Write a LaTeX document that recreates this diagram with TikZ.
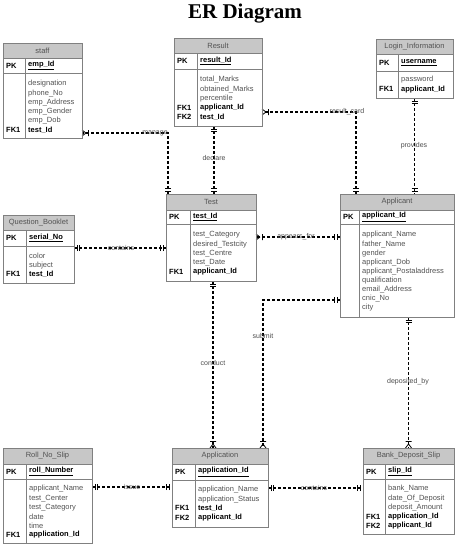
\documentclass[tikz,border=0pt]{standalone}
\usepackage{fontspec}
\setmainfont{Liberation Sans}
\newfontfamily\titlefont{Liberation Serif}
\usetikzlibrary{decorations.markings,backgrounds}

\tikzset{
  entity/.style={draw=black!50, line width=0.7pt, anchor=north west, inner sep=0pt, outer sep=0pt},
  entityhead/.style={fill=black!22},
  entityrule/.style={draw=black!50, line width=0.7pt},
  entityname/.style={inner sep=0pt, font=\fontsize{7.5}{9}\selectfont, text=black!68},
  field/.style={anchor=west, inner sep=0pt, font=\fontsize{7.5}{9}\selectfont, text=black!68},
  boldfield/.style={field, font=\fontsize{7.5}{9}\selectfont\bfseries, text=black},
  keytag/.style={boldfield},
  relation/.style={line width=1.1pt, dash pattern=on 3pt off 2pt},
  rellabel/.style={inner sep=0pt, font=\fontsize{7}{8}\selectfont, text=black!70},
  oneA/.style={postaction={decorate, decoration={markings,
    mark=at position 3pt with {\draw[solid, line width=0.8pt] (0,-3pt) -- (0,3pt);},
    mark=at position 5.5pt with {\draw[solid, line width=0.8pt] (0,-3pt) -- (0,3pt);}}}},
  oneB/.style={postaction={decorate, decoration={markings,
    mark=at position -3pt with {\draw[solid, line width=0.8pt] (0,-3pt) -- (0,3pt);},
    mark=at position -5.5pt with {\draw[solid, line width=0.8pt] (0,-3pt) -- (0,3pt);}}}},
  manyB/.style={postaction={decorate, decoration={markings,
    mark=at position 1 with {\draw[solid, line width=0.8pt] (-4pt,0) -- (0,3pt) (-4pt,0) -- (0,-3pt) (-6.5pt,-3pt) -- (-6.5pt,3pt);}}}}
}

\begin{document}
\begin{tikzpicture}[x=1pt, y=-1pt]
	\useasboundingbox (0,0) rectangle (474,557);
	\node[font=\titlefont\bfseries\fontsize{21}{24}\selectfont] (title) at (245,14) {ER Diagram};

	% staff
	\fill[entityhead] (3,43) rectangle (82,58);
	\node[entity, minimum width=79pt, minimum height=95pt] (staff) at (3,43) {};
	\draw[entityrule] (3,58) -- (82,58) (3,73) -- (82,73) (25,58) -- (25,138);
	\node[entityname] (staff-t) at (42.5,50.5) {staff};
	\node[keytag] (staff-pk) at (6,65.5) {PK};
	\node[boldfield] (staff-k) at (28,65.5) {\underline{emp\_Id}};
	\foreach \fld [count=\i from 0] in {designation,phone\_No,emp\_Address,emp\_Gender,emp\_Dob}
		\node[field] (staff-f\i) at (28,84+9.2*\i) {\fld};
	\node[keytag] (staff-fk1) at (6,130) {FK1};
	\node[boldfield] (staff-fa1) at (28,130) {test\_Id};

	% Result
	\fill[entityhead] (174,38) rectangle (262,53);
	\node[entity, minimum width=88pt, minimum height=88pt] (result) at (174,38) {};
	\draw[entityrule] (174,53) -- (262,53) (174,69) -- (262,69) (197,53) -- (197,126);
	\node[entityname] (result-t) at (218,45.5) {Result};
	\node[keytag] (result-pk) at (177,61) {PK};
	\node[boldfield] (result-k) at (200,61) {\underline{result\_Id}};
	\foreach \fld [count=\i from 0] in {total\_Marks,obtained\_Marks,percentile}
		\node[field] (result-f\i) at (200,80+9.2*\i) {\fld};
	\foreach \fld [count=\i] in {applicant\_Id,test\_Id} {
		\node[keytag] (result-fk\i) at (177,98.4+9.2*\i) {FK\i};
		\node[boldfield] (result-fa\i) at (200,98.4+9.2*\i) {\fld};
	}

	% Login_Information
	\fill[entityhead] (376,39) rectangle (453,54);
	\node[entity, minimum width=77pt, minimum height=59pt] (login) at (376,39) {};
	\draw[entityrule] (376,54) -- (453,54) (376,71) -- (453,71) (398,54) -- (398,98);
	\node[entityname] (login-t) at (414.5,46.5) {Login\_Information};
	\node[keytag] (login-pk) at (379,62.5) {PK};
	\node[boldfield] (login-k) at (401,62.5) {\underline{username}};
	\node[field] (login-f0) at (401,80) {password};
	\node[keytag] (login-fk1) at (379,89.2) {FK1};
	\node[boldfield] (login-fa1) at (401,89.2) {applicant\_Id};

	% Question_Booklet
	\fill[entityhead] (3,215) rectangle (74,230);
	\node[entity, minimum width=71pt, minimum height=68pt] (booklet) at (3,215) {};
	\draw[entityrule] (3,230) -- (74,230) (3,246) -- (74,246) (26,230) -- (26,283);
	\node[entityname] (booklet-t) at (38.5,222.5) {Question\_Booklet};
	\node[keytag] (booklet-pk) at (6,238) {PK};
	\node[boldfield] (booklet-k) at (29,238) {\underline{serial\_No}};
	\foreach \fld [count=\i from 0] in {color,subject}
		\node[field] (booklet-f\i) at (29,256+9.2*\i) {\fld};
	\node[keytag] (booklet-fk1) at (6,274.4) {FK1};
	\node[boldfield] (booklet-fa1) at (29,274.4) {test\_Id};

	% Test
	\fill[entityhead] (166,194) rectangle (256,210);
	\node[entity, minimum width=90pt, minimum height=87pt] (test) at (166,194) {};
	\draw[entityrule] (166,210) -- (256,210) (166,224) -- (256,224) (190,210) -- (190,281);
	\node[entityname] (test-t) at (211,202) {Test};
	\node[keytag] (test-pk) at (169,217) {PK};
	\node[boldfield] (test-k) at (193,217) {\underline{test\_Id}};
	\foreach \fld [count=\i from 0] in {test\_Category,desired\_Testcity,test\_Centre,test\_Date}
		\node[field] (test-f\i) at (193,235+9.2*\i) {\fld};
	\node[keytag] (test-fk1) at (169,271.8) {FK1};
	\node[boldfield] (test-fa1) at (193,271.8) {applicant\_Id};

	% Applicant
	\fill[entityhead] (340,194) rectangle (454,210);
	\node[entity, minimum width=114pt, minimum height=123pt] (applicant) at (340,194) {};
	\draw[entityrule] (340,210) -- (454,210) (340,224) -- (454,224) (359,210) -- (359,317);
	\node[entityname] (applicant-t) at (397,202) {Applicant};
	\node[keytag] (applicant-pk) at (343,217) {PK};
	\node[boldfield] (applicant-k) at (362,217) {\underline{applicant\_Id}};
	\foreach \fld [count=\i from 0] in {applicant\_Name,father\_Name,gender,applicant\_Dob,applicant\_Postaladdress,qualification,email\_Address,cnic\_No,city}
		\node[field] (applicant-f\i) at (362,235+9.1*\i) {\fld};

	% Roll_No_Slip
	\fill[entityhead] (3,448) rectangle (92,464);
	\node[entity, minimum width=89pt, minimum height=95pt] (roll) at (3,448) {};
	\draw[entityrule] (3,464) -- (92,464) (3,479) -- (92,479) (26,464) -- (26,543);
	\node[entityname] (roll-t) at (47.5,456) {Roll\_No\_Slip};
	\node[keytag] (roll-pk) at (6,471.5) {PK};
	\node[boldfield] (roll-k) at (29,471.5) {\underline{roll\_Number}};
	\foreach \fld [count=\i from 0] in {applicant\_Name,test\_Center,test\_Category,date,time}
		\node[field] (roll-f\i) at (29,489+9.2*\i) {\fld};
	\node[keytag] (roll-fk1) at (6,535) {FK1};
	\node[boldfield] (roll-fa1) at (29,535) {application\_Id};

	% Application
	\fill[entityhead] (172,448) rectangle (268,464);
	\node[entity, minimum width=96pt, minimum height=79pt] (application) at (172,448) {};
	\draw[entityrule] (172,464) -- (268,464) (172,480) -- (268,480) (195,464) -- (195,527);
	\node[entityname] (application-t) at (220,456) {Application};
	\node[keytag] (application-pk) at (175,472) {PK};
	\node[boldfield] (application-k) at (198,472) {\underline{application\_Id}};
	\foreach \fld [count=\i from 0] in {application\_Name,application\_Status}
		\node[field] (application-f\i) at (198,490+9.2*\i) {\fld};
	\foreach \fld [count=\i] in {test\_Id,applicant\_Id} {
		\node[keytag] (application-fk\i) at (175,499.2+9.2*\i) {FK\i};
		\node[boldfield] (application-fa\i) at (198,499.2+9.2*\i) {\fld};
	}

	% Bank_Deposit_Slip
	\fill[entityhead] (363,448) rectangle (454,464);
	\node[entity, minimum width=91pt, minimum height=86pt] (bank) at (363,448) {};
	\draw[entityrule] (363,464) -- (454,464) (363,479) -- (454,479) (385,464) -- (385,534);
	\node[entityname] (bank-t) at (408.5,456) {Bank\_Deposit\_Slip};
	\node[keytag] (bank-pk) at (366,471.5) {PK};
	\node[boldfield] (bank-k) at (388,471.5) {\underline{slip\_Id}};
	\foreach \fld [count=\i from 0] in {bank\_Name,date\_Of\_Deposit,deposit\_Amount}
		\node[field] (bank-f\i) at (388,489+9.2*\i) {\fld};
	\foreach \fld [count=\i] in {application\_Id,applicant\_Id} {
		\node[keytag] (bank-fk\i) at (366,507.4+9.2*\i) {FK\i};
		\node[boldfield] (bank-fa\i) at (388,507.4+9.2*\i) {\fld};
	}

	% relationship labels
	\node[rellabel] (manage) at (155,133) {manage};
	\node[rellabel] (declare) at (214,158) {declare};
	\node[rellabel] (card) at (347,112) {result\_card};
	\node[rellabel] (provides) at (414,146) {provides};
	\node[rellabel] (contains-a) at (121,248) {contains};
	\node[rellabel] (appears) at (296,237) {appears\_for};
	\node[rellabel] (submit) at (263,336) {submit};
	\node[rellabel] (conduct) at (213,363) {conduct};
	\node[rellabel] (deposited) at (408,382) {deposited\_by};
	\node[rellabel] (issue) at (132,487) {issue};
	\node[rellabel] (contains-b) at (314,488) {contains};

	\coordinate (manage-c) at (168,133);
	\coordinate (card-c) at (356,112);
	\coordinate (submit-c) at (263,300);

	% relationships, kept under the labels
	\begin{scope}[on background layer]
	\draw[relation, oneA, manyB] (test.north -| manage-c) -- (manage-c) -- (staff.east |- manage-c);
	\draw[relation, oneA, oneB] (result.south -| declare) -- (test.north -| declare);
	\draw[relation, oneA, manyB] (applicant.north -| card-c) -- (card-c) -- (result.east |- card-c);
	\draw[relation, oneA, oneB] (login.south) -- (applicant.north -| login.south);
	\draw[relation, oneA, oneB] (booklet.east |- contains-a) -- (test.west |- contains-a);
	\draw[relation, oneA, manyB] (applicant.west |- appears) -- (test.east |- appears);
	\draw[relation, oneA, manyB] (applicant.west |- submit-c) -- (submit-c) -- (application.north -| submit-c);
	\draw[relation, oneA, manyB] (test.south -| conduct) -- (application.north -| conduct);
	\draw[relation, oneA, manyB] (applicant.south -| bank.north) -- (bank.north);
	\draw[relation, oneA, oneB] (roll.east |- issue) -- (application.west |- issue);
	\draw[relation, oneA, oneB] (application.east |- contains-b) -- (bank.west |- contains-b);
	\end{scope}
\end{tikzpicture}
\end{document}
